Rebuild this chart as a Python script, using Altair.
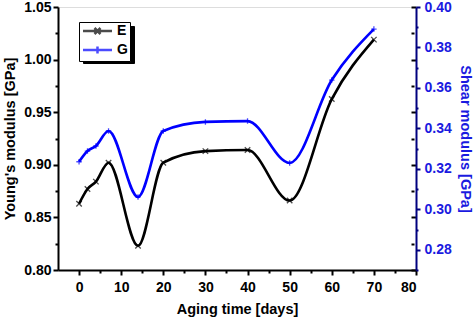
import altair as alt
import pandas as pd

days = [0, 2, 4, 7, 14, 20, 30, 40, 50, 60, 70]
E_vals = [0.863, 0.877, 0.884, 0.902, 0.823, 0.902, 0.913, 0.914, 0.866, 0.9625, 1.019]
G_vals = [0.3235, 0.3288, 0.3313, 0.3387, 0.3061, 0.3387, 0.3432, 0.3436, 0.3229, 0.3639, 0.3891]
series = ["E", "G"]
shadow_keys = ["E*", "G*"]

x_ticks = list(range(0, 85, 5))
y_left_ticks = [round(0.80 + 0.025 * i, 3) for i in range(11)]
y_right_ticks = [round(0.27 + 0.01 * i, 2) for i in range(14)]

df = pd.DataFrame({"day": days, "E": E_vals, "G": G_vals})

FONT = "Liberation Sans"
BLUE = "#0000ff"
LBLUE = "#1a1ae0"
NAVY = "#00007f"

x_axis = alt.Axis(
    values=x_ticks, title="Aging time [days]", grid=False,
    labelExpr="datum.value % 10 === 0 ? datum.label : ''",
    tickSize={"condition": {"test": "datum.value % 10 === 0", "value": 5}, "value": 3},
    tickWidth=2, domainWidth=2, domainColor="black", tickColor="black",
    labelFont=FONT, labelFontSize=14, labelFontWeight="bold", labelColor="black",
    labelPadding=5, titleFont=FONT, titleFontSize=14.5, titleFontWeight="bold",
    titlePadding=8, titleColor="black",
)
x_enc = alt.X("day:Q", scale=alt.Scale(domain=[-5, 80], nice=False, zero=False), axis=x_axis)

MAJOR_L = "round(datum.value * 1000) % 50 === 0"
left_axis = alt.Axis(
    values=y_left_ticks, format=".2f", title="Young's modulus [GPa]", grid=False,
    labelExpr=MAJOR_L + " ? datum.label : ''",
    tickSize={"condition": {"test": MAJOR_L, "value": 5}, "value": 3},
    tickWidth=2, domainWidth=2, domainColor="black", tickColor="black",
    labelFont=FONT, labelFontSize=14, labelFontWeight="bold", labelColor="black",
    labelPadding=2, titleFont=FONT, titleFontSize=14.5, titleFontWeight="bold",
    titlePadding=6, titleColor="black",
)
mirror_axis = alt.Axis(
    orient="right", values=y_left_ticks, labels=False, domain=False, title=None, grid=False,
    offset=-5,
    tickSize={"condition": {"test": MAJOR_L, "value": 5}, "value": 3},
    tickWidth=2, tickColor="black",
)
right_axis = alt.Axis(
    orient="right", values=y_right_ticks, format=".2f", title="Shear modulus [GPa]", grid=False,
    labelExpr="round(datum.value * 100) % 2 === 0 ? datum.label : ''",
    tickSize={"condition": {"test": "round(datum.value * 100) % 2 === 0", "value": 4}, "value": 2},
    tickWidth=2, domainWidth=2, domainColor=NAVY, tickColor=NAVY,
    labelFont=FONT, labelFontSize=14, labelFontWeight="bold", labelColor=LBLUE,
    labelPadding=4, titleFont=FONT, titleFontSize=14.5, titleFontWeight="bold",
    titlePadding=6, titleColor=LBLUE,
)

left_scale = alt.Scale(domain=[0.80, 1.05], nice=False, zero=False)
y_left = alt.Y("E:Q", scale=left_scale, axis=left_axis)
y_right = alt.Y("G:Q", scale=alt.Scale(domain=[0.27, 0.40], nice=False, zero=False), axis=right_axis)

X_PATH = "M-1,-1L1,1M-1,1L1,-1"
PLUS_PATH = "M-1,0L1,0M0,-1L0,1"
LEG_E = "M-1,0L4.8,0M1.3,-0.6L2.5,0.6M1.3,0.6L2.5,-0.6"
LEG_G = "M-1,0L4.8,0M1.9,-0.7L1.9,0.7"

INTERP = "monotone"

base = alt.Chart(df)

e_line = base.mark_line(color="black", strokeWidth=2.6, interpolate=INTERP).encode(x=x_enc, y=y_left)
e_pts = base.mark_point(shape=X_PATH, color="black", filled=False, size=30, strokeWidth=1.3).encode(
    x=x_enc, y=alt.Y("E:Q", scale=left_scale, axis=None))
e_mirror = base.mark_point(opacity=0).encode(
    x=x_enc, y=alt.Y("E:Q", scale=left_scale, axis=mirror_axis))

leg_common = dict(
    title=None, padding=2, symbolStrokeWidth=2.5,
    labelFont=FONT, labelFontSize=14, labelFontWeight="bold",
    rowPadding=2, symbolSize=100,
)

legend_layer = base.transform_filter("false").mark_point(filled=False, size=100).encode(
    x=alt.value(0), y=alt.value(0),
    color=alt.Color("s:N", scale=alt.Scale(domain=series, range=["black", BLUE]),
                    legend=alt.Legend(orient="none", legendX=21, legendY=15, labelOffset=22,
                                      strokeColor="black", fillColor="white", zindex=2,
                                      **leg_common)),
    shape=alt.Shape("s:N", scale=alt.Scale(domain=series, range=[LEG_E, LEG_G]), legend=None),
    strokeDash=alt.StrokeDash("s2:N", scale=alt.Scale(domain=shadow_keys, range=[[1, 0], [1, 0]]),
                              legend=alt.Legend(orient="none", legendX=25, legendY=19,
                                                labelOffset=33,
                                                strokeColor="black", fillColor="black", zindex=1,
                                                symbolType=LEG_E, symbolStrokeColor="black",
                                                labelExpr="''",
                                                **leg_common)),
)

g_line = base.mark_line(color=BLUE, strokeWidth=2.6, interpolate=INTERP).encode(x=x_enc, y=y_right)
g_pts = base.mark_point(shape=PLUS_PATH, color=BLUE, filled=False, size=30, strokeWidth=1.3).encode(
    x=x_enc, y=y_right)

left = alt.layer(e_line, e_pts, e_mirror, legend_layer).resolve_axis(y="independent")
right = alt.layer(g_line, g_pts)

chart = alt.layer(left, right).resolve_scale(y="independent").properties(
    width=358, height=263,
    padding={"left": 58, "top": 7, "right": 58, "bottom": 52},
    autosize="none",
).configure_view(stroke="black", strokeWidth=2).configure(background="white")

chart.save("out.html", embed_options={"renderer": "svg", "actions": False})
